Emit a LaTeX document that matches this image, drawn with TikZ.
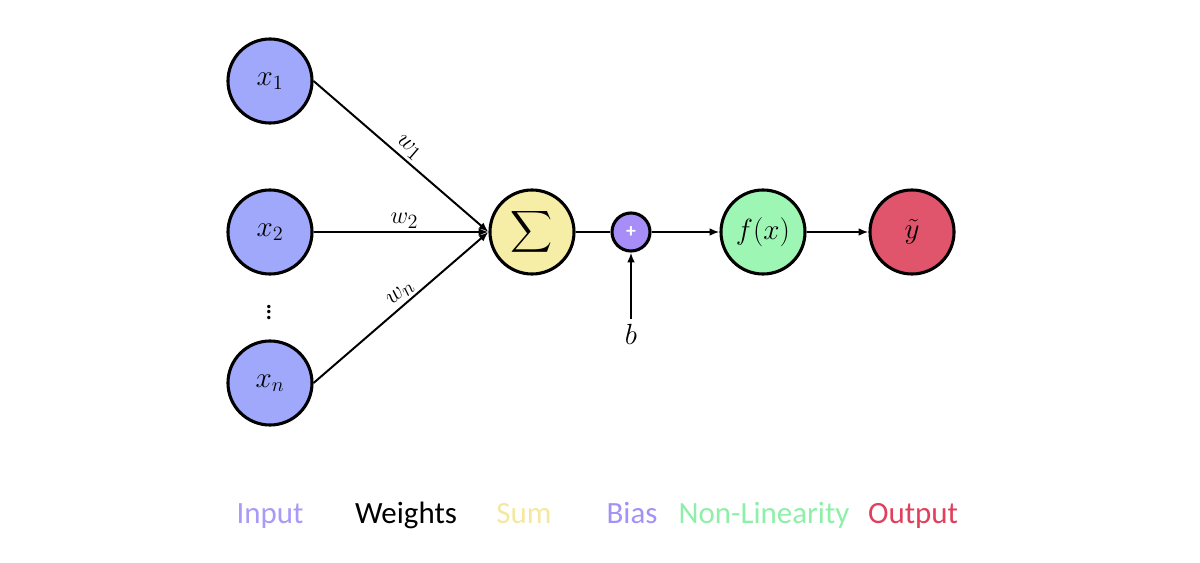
\documentclass[tikz,border=0pt]{standalone}
\usepackage{fontspec}
\setmainfont{Carlito}
\usepackage{amsmath}
\usetikzlibrary{arrows.meta}

\definecolor{inputcol}{HTML}{9FA8FA}
\definecolor{sumcol}{HTML}{F6EEA6}
\definecolor{biascol}{HTML}{A68EF6}
\definecolor{actcol}{HTML}{9EF6B4}
\definecolor{outcol}{HTML}{E0546C}
\definecolor{inputtxt}{HTML}{A89AF7}
\definecolor{sumtxt}{HTML}{F4E8A0}
\definecolor{biastxt}{HTML}{A292F6}
\definecolor{acttxt}{HTML}{8EF0A8}
\definecolor{outtxt}{HTML}{E0405C}

\begin{document}
\begin{tikzpicture}[x=0.025cm,y=-0.025cm,
    neuron/.style={circle,draw,line width=2.2pt,minimum size=2.1cm,inner sep=0pt,
        font=\fontsize{20}{24}\selectfont},
    link/.style={line width=1.4pt},
    arr/.style={link,-{Latex[length=7pt,width=5.5pt]}},
    wlabel/.style={font=\fontsize{19}{22}\selectfont,inner sep=2pt},
    legend/.style={anchor=base,font=\fontsize{22}{26}\selectfont}]
    \useasboundingbox (0,0) rectangle (1200,563);

    % inputs
    \node[neuron,fill=inputcol] (x1) at (270,81) {$x_1$};
    \node[neuron,fill=inputcol] (x2) at (270,232) {$x_2$};
    \node[neuron,fill=inputcol] (xn) at (270,383) {$x_n$};
    \node[font=\fontsize{20}{24}\selectfont] (dots) at (269,308) {$\vdots$};

    % sum, bias, activation, output
    \node[neuron,fill=sumcol,font=\fontsize{22}{26}\selectfont] (sum) at (532,232) {$\displaystyle\sum$};
    \node[circle,draw,line width=2.2pt,minimum size=0.95cm,inner sep=0pt,fill=biascol,
        text=white,font=\bfseries\fontsize{14}{16}\selectfont] (plus) at (631,232) {+};
    \node[neuron,fill=actcol] (act) at (763,232) {$f(x)$};
    \node[neuron,fill=outcol] (out) at (912,232) {$\tilde{y}$};
    \node[font=\fontsize{20}{24}\selectfont] (b) at (631,334) {$b$};

    % connections
    \draw[arr] (x1.east) -- (sum.west) node[wlabel,pos=.5,sloped,above]{$w_1$};
    \draw[arr] (x2.east) -- (sum.west) node[wlabel,pos=.52,above]{$w_2$};
    \draw[arr] (xn.east) -- (sum.west) node[wlabel,pos=.54,sloped,above]{$w_n$};
    \draw[link] (sum) -- (plus);
    \draw[arr] (plus) -- (act);
    \draw[arr] (act) -- (out);
    \draw[arr] (b.north) -- (plus);

    % legend
    \node[legend,text=inputtxt] (lin) at (270,523) {Input};
    \node[legend] (lw) at (406,523) {Weights};
    \node[legend,text=sumtxt] (ls) at (524,523) {Sum};
    \node[legend,text=biastxt] (lb) at (632,523) {Bias};
    \node[legend,text=acttxt] (la) at (764,523) {Non-Linearity};
    \node[legend,text=outtxt] (lo) at (913,523) {Output};
\end{tikzpicture}
\end{document}
